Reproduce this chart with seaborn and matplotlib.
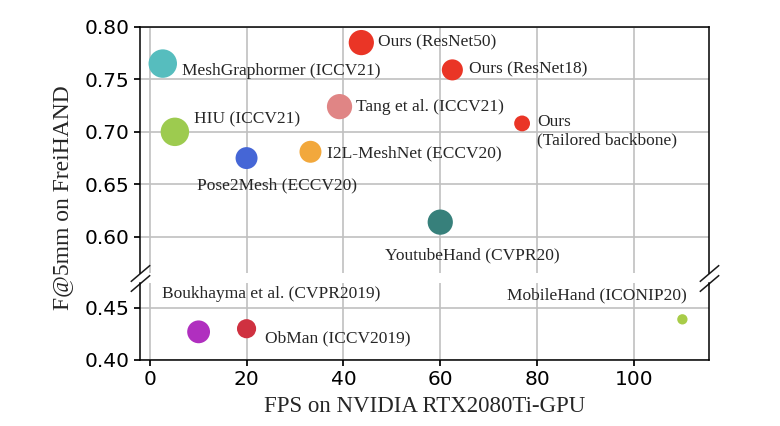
import matplotlib
matplotlib.use("Agg")
import matplotlib.pyplot as plt
import seaborn as sns
import pandas as pd

# donnees
methods = ["Ours (ResNet50)", "Ours (ResNet18)", "Ours\n(Tailored backbone)",
           "MeshGraphormer (ICCV21)", "HIU (ICCV21)", "Tang et al. (ICCV21)",
           "Pose2Mesh (ECCV20)", "I2L-MeshNet (ECCV20)", "YoutubeHand (CVPR20)",
           "Boukhayma et al. (CVPR2019)", "ObMan (ICCV2019)", "MobileHand (ICONIP20)"]
fps = [43.7, 62.5, 76.9, 2.7, 5.2, 39.2, 20.0, 33.2, 60.0, 10.1, 20.0, 110.0]
fscore = [0.785, 0.759, 0.708, 0.765, 0.700, 0.724, 0.675, 0.681, 0.614, 0.427, 0.430, 0.439]
colors = ["#ea3526", "#ea3526", "#ea3526", "#56bdbe", "#9dcb4f", "#e08585",
          "#4566d6", "#f2a83c", "#37807b", "#b02fbf", "#cf3140", "#a8cc48"]
msize = [330, 230, 130, 420, 420, 330, 250, 250, 330, 270, 190, 55]

# position des etiquettes (decalage en points, alignement)
label_off = [(12, 0), (12, 0), (11, 7), (14, -5), (14, 9), (12, 0),
             (-36, -20), (12, -1), (-40, -24), (-26, 27), (13, -7), (3, 17)]
label_ha = ["left"] * 11 + ["right"]
label_va = ["center", "center", "top", "center", "center", "center",
            "center", "center", "center", "center", "center", "center"]

data = pd.DataFrame({"method": methods, "fps": fps, "f5": fscore, "s": msize})

sns.set_theme(style="ticks", rc={
    "axes.edgecolor": "black", "axes.linewidth": 1.1,
    "grid.color": "#c0c0c0", "grid.linewidth": 1.2,
    "xtick.color": "black", "ytick.color": "black",
    "xtick.major.size": 4, "ytick.major.size": 4,
})
plt.rcParams["font.family"] = ["DejaVu Sans"]

fig = plt.figure(figsize=(7.8, 4.26), dpi=100)
ax1 = fig.add_axes([0.1795, 0.359, 0.7295, 0.578])
ax2 = fig.add_axes([0.1795, 0.155, 0.7295, 0.181])

pal = dict(zip(methods, colors))
for ax in (ax1, ax2):
    ax.grid(True, zorder=0)
    ax.set_axisbelow(True)
    sns.scatterplot(data=data, x="fps", y="f5", hue="method", palette=pal,
                    size="s", sizes=(min(msize), max(msize)), size_norm=(min(msize), max(msize)),
                    linewidth=0, alpha=1, legend=False, ax=ax, zorder=3)
    ax.set_xlim(-2, 115.5)
    ax.set_xticks([0, 20, 40, 60, 80, 100])
    ax.set_xlabel("")
    ax.set_ylabel("")
    ax.tick_params(labelsize=14.5)

ax1.set_ylim(0.5655, 0.80)
ax1.set_yticks([0.60, 0.65, 0.70, 0.75, 0.80])
ax1.set_yticklabels(["0.60", "0.65", "0.70", "0.75", "0.80"])
ax2.set_ylim(0.40, 0.474)
ax2.set_yticks([0.40, 0.45])
ax2.set_yticklabels(["0.40", "0.45"])

ax1.spines["bottom"].set_visible(False)
ax2.spines["top"].set_visible(False)
ax1.tick_params(axis="x", length=0, labelbottom=False)

serif = ["Liberation Serif", "DejaVu Serif"]

# etiquettes
for i, m in enumerate(methods):
    ax = ax1 if fscore[i] > 0.5 else ax2
    ax.annotate(m, (fps[i], fscore[i]), xytext=label_off[i], textcoords="offset points",
                ha=label_ha[i], va=label_va[i], fontsize=12.5,
                family=serif, zorder=4, annotation_clip=False)

# marques de coupure
d = 0.85
kw = dict(marker=[(-1, -d), (1, d)], markersize=14, linestyle="none",
          color="k", mec="k", mew=1.1, clip_on=False)
ax1.plot([0, 1], [0, 0], transform=ax1.transAxes, **kw)
ax2.plot([0, 1], [1, 1], transform=ax2.transAxes, **kw)

ax2.set_xlabel("FPS on NVIDIA RTX2080Ti-GPU", fontsize=16.5, family=serif, labelpad=5)
fig.text(0.08, 0.535, "F@5mm on FreiHAND", rotation=90, ha="center", va="center",
         fontsize=17, family=serif)

fig.savefig("out.png", dpi=100)
